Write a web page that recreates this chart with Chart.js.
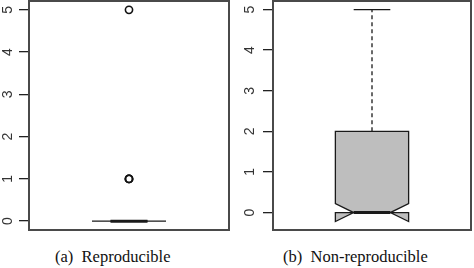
<!DOCTYPE html>
<html lang="en">
<head>
    <meta charset="UTF-8">
    <title>Reproducible vs Non-reproducible</title>
    <script src="https://cdn.jsdelivr.net/npm/chart.js"></script>
    <style>
        body {
            margin: 0;
            background: #fff;
            width: 474px;
            height: 268px;
            overflow: hidden;
            position: relative;
        }
        .panel {
            position: absolute;
            top: 0;
            width: 237px;
            height: 236px;
        }
        .caption {
            position: absolute;
            top: 247px;
            font-family: "Liberation Serif", "DejaVu Serif", serif;
            font-size: 16.5px;
            color: #111;
            white-space: pre;
        }
    </style>
</head>
<body>

    <div class="panel" style="left:0"><canvas id="chart1"></canvas></div>
    <div class="panel" style="left:237px"><canvas id="chart2"></canvas></div>
    <div class="caption" id="cap1" style="left:55px"></div>
    <div class="caption" id="cap2" style="left:283px"></div>

    <script>
        // data
        const captions = ['(a)  Reproducible', '(b)  Non-reproducible'];
        const yTicks = [0, 1, 2, 3, 4, 5];
        const lowerWhisker = [0, 0];
        const q1 = [0, 0];
        const medians = [0, 0];
        const q3 = [0, 2];
        const upperWhisker = [0, 5];
        const notchLo = [0, -0.22];
        const notchHi = [0, 0.22];
        const outliers = [[1, 1, 1, 5], []];
        const yMin = [-0.21, -0.43];
        const yMax = [5.21, 5.21];

        const BOX_HALF = 0.185;   // in x units (x axis runs 0..1)
        const LINE = '#1a1a1a';

        const boxPlugin = {
            id: 'boxplot',
            beforeDatasetsDraw(chart) {
                const i = chart.options.panelIndex;
                const xs = chart.scales.x, ys = chart.scales.y;
                const ctx = chart.ctx;
                const px = v => xs.getPixelForValue(v);
                const py = v => ys.getPixelForValue(v);
                const xl = px(0.5 - BOX_HALF), xr = px(0.5 + BOX_HALF);
                const xlm = px(0.5 - BOX_HALF / 2), xrm = px(0.5 + BOX_HALF / 2);
                const cx = px(0.5);

                ctx.save();
                // whiskers
                ctx.strokeStyle = LINE;
                ctx.lineWidth = 1.3;
                ctx.setLineDash([4, 3]);
                ctx.beginPath();
                ctx.moveTo(cx, py(q3[i])); ctx.lineTo(cx, py(upperWhisker[i]));
                ctx.moveTo(cx, py(q1[i])); ctx.lineTo(cx, py(lowerWhisker[i]));
                ctx.stroke();
                ctx.setLineDash([]);
                // staples
                ctx.beginPath();
                ctx.moveTo(xlm, py(upperWhisker[i])); ctx.lineTo(xrm, py(upperWhisker[i]));
                ctx.moveTo(xlm, py(lowerWhisker[i])); ctx.lineTo(xrm, py(lowerWhisker[i]));
                ctx.stroke();

                // notched box
                const pts = [
                    [xl, q1[i]], [xl, notchLo[i]], [xlm, medians[i]], [xl, notchHi[i]], [xl, q3[i]],
                    [xr, q3[i]], [xr, notchHi[i]], [xrm, medians[i]], [xr, notchLo[i]], [xr, q1[i]]
                ];
                ctx.beginPath();
                pts.forEach((p, k) => k ? ctx.lineTo(p[0], py(p[1])) : ctx.moveTo(p[0], py(p[1])));
                ctx.closePath();
                ctx.fillStyle = '#bebebe';
                ctx.fill();
                ctx.lineJoin = 'miter';
                ctx.stroke();

                // median
                ctx.lineWidth = 3;
                ctx.beginPath();
                ctx.moveTo(xlm, py(medians[i])); ctx.lineTo(xrm, py(medians[i]));
                ctx.stroke();
                ctx.restore();
            },
            afterDraw(chart) {
                const a = chart.chartArea, ctx = chart.ctx;
                const ys = chart.scales.y;
                ctx.save();
                ctx.strokeStyle = '#4a4a4a';
                ctx.lineWidth = 2;
                ctx.strokeRect(a.left, a.top, a.right - a.left, a.bottom - a.top);

                // rotated tick labels, R style
                ctx.fillStyle = '#333';
                ctx.font = '14px "Liberation Sans", Arial, sans-serif';
                ctx.textAlign = 'center';
                ctx.textBaseline = 'middle';
                const lx = a.left - chart.options.labelOffset;
                ys.ticks.forEach(t => {
                    ctx.save();
                    ctx.translate(lx, ys.getPixelForValue(t.value));
                    ctx.rotate(-Math.PI / 2);
                    ctx.fillText(String(t.value), 0, 0);
                    ctx.restore();
                });
                ctx.restore();
            }
        };

        function renderChart(canvasId, i, padRight, axisWidth, labelOffset) {
            const ctx = document.getElementById(canvasId).getContext('2d');
            return new Chart(ctx, {
                type: 'scatter',
                data: {
                    datasets: [{
                        data: outliers[i].map(v => ({ x: 0.5, y: v })),
                        pointStyle: 'circle',
                        pointRadius: 3.6,
                        borderWidth: 1.6,
                        borderColor: '#111',
                        backgroundColor: 'rgba(0,0,0,0)'
                    }]
                },
                options: {
                    panelIndex: i,
                    labelOffset: labelOffset,
                    responsive: true,
                    maintainAspectRatio: false,
                    animation: false,
                    layout: { autoPadding: false, padding: { left: 0, right: padRight, top: 1, bottom: 6 } },
                    plugins: { legend: { display: false }, tooltip: { enabled: false } },
                    scales: {
                        x: { type: 'linear', min: 0, max: 1, display: false },
                        y: {
                            type: 'linear',
                            min: yMin[i],
                            max: yMax[i],
                            afterBuildTicks: s => { s.ticks = yTicks.map(v => ({ value: v })); },
                            afterFit: s => { s.width = axisWidth; s.paddingTop = 0; s.paddingBottom = 0; },
                            border: { display: false },
                            grid: {
                                drawOnChartArea: false,
                                drawTicks: true,
                                tickLength: 10,
                                tickColor: '#222',
                                lineWidth: 1.3
                            },
                            ticks: { display: false }
                        }
                    }
                },
                plugins: [boxPlugin]
            });
        }

        renderChart('chart1', 0, 8, 29, 21);
        renderChart('chart2', 1, 3, 36, 23);
        document.getElementById('cap1').textContent = captions[0];
        document.getElementById('cap2').textContent = captions[1];
    </script>
</body>
</html>
